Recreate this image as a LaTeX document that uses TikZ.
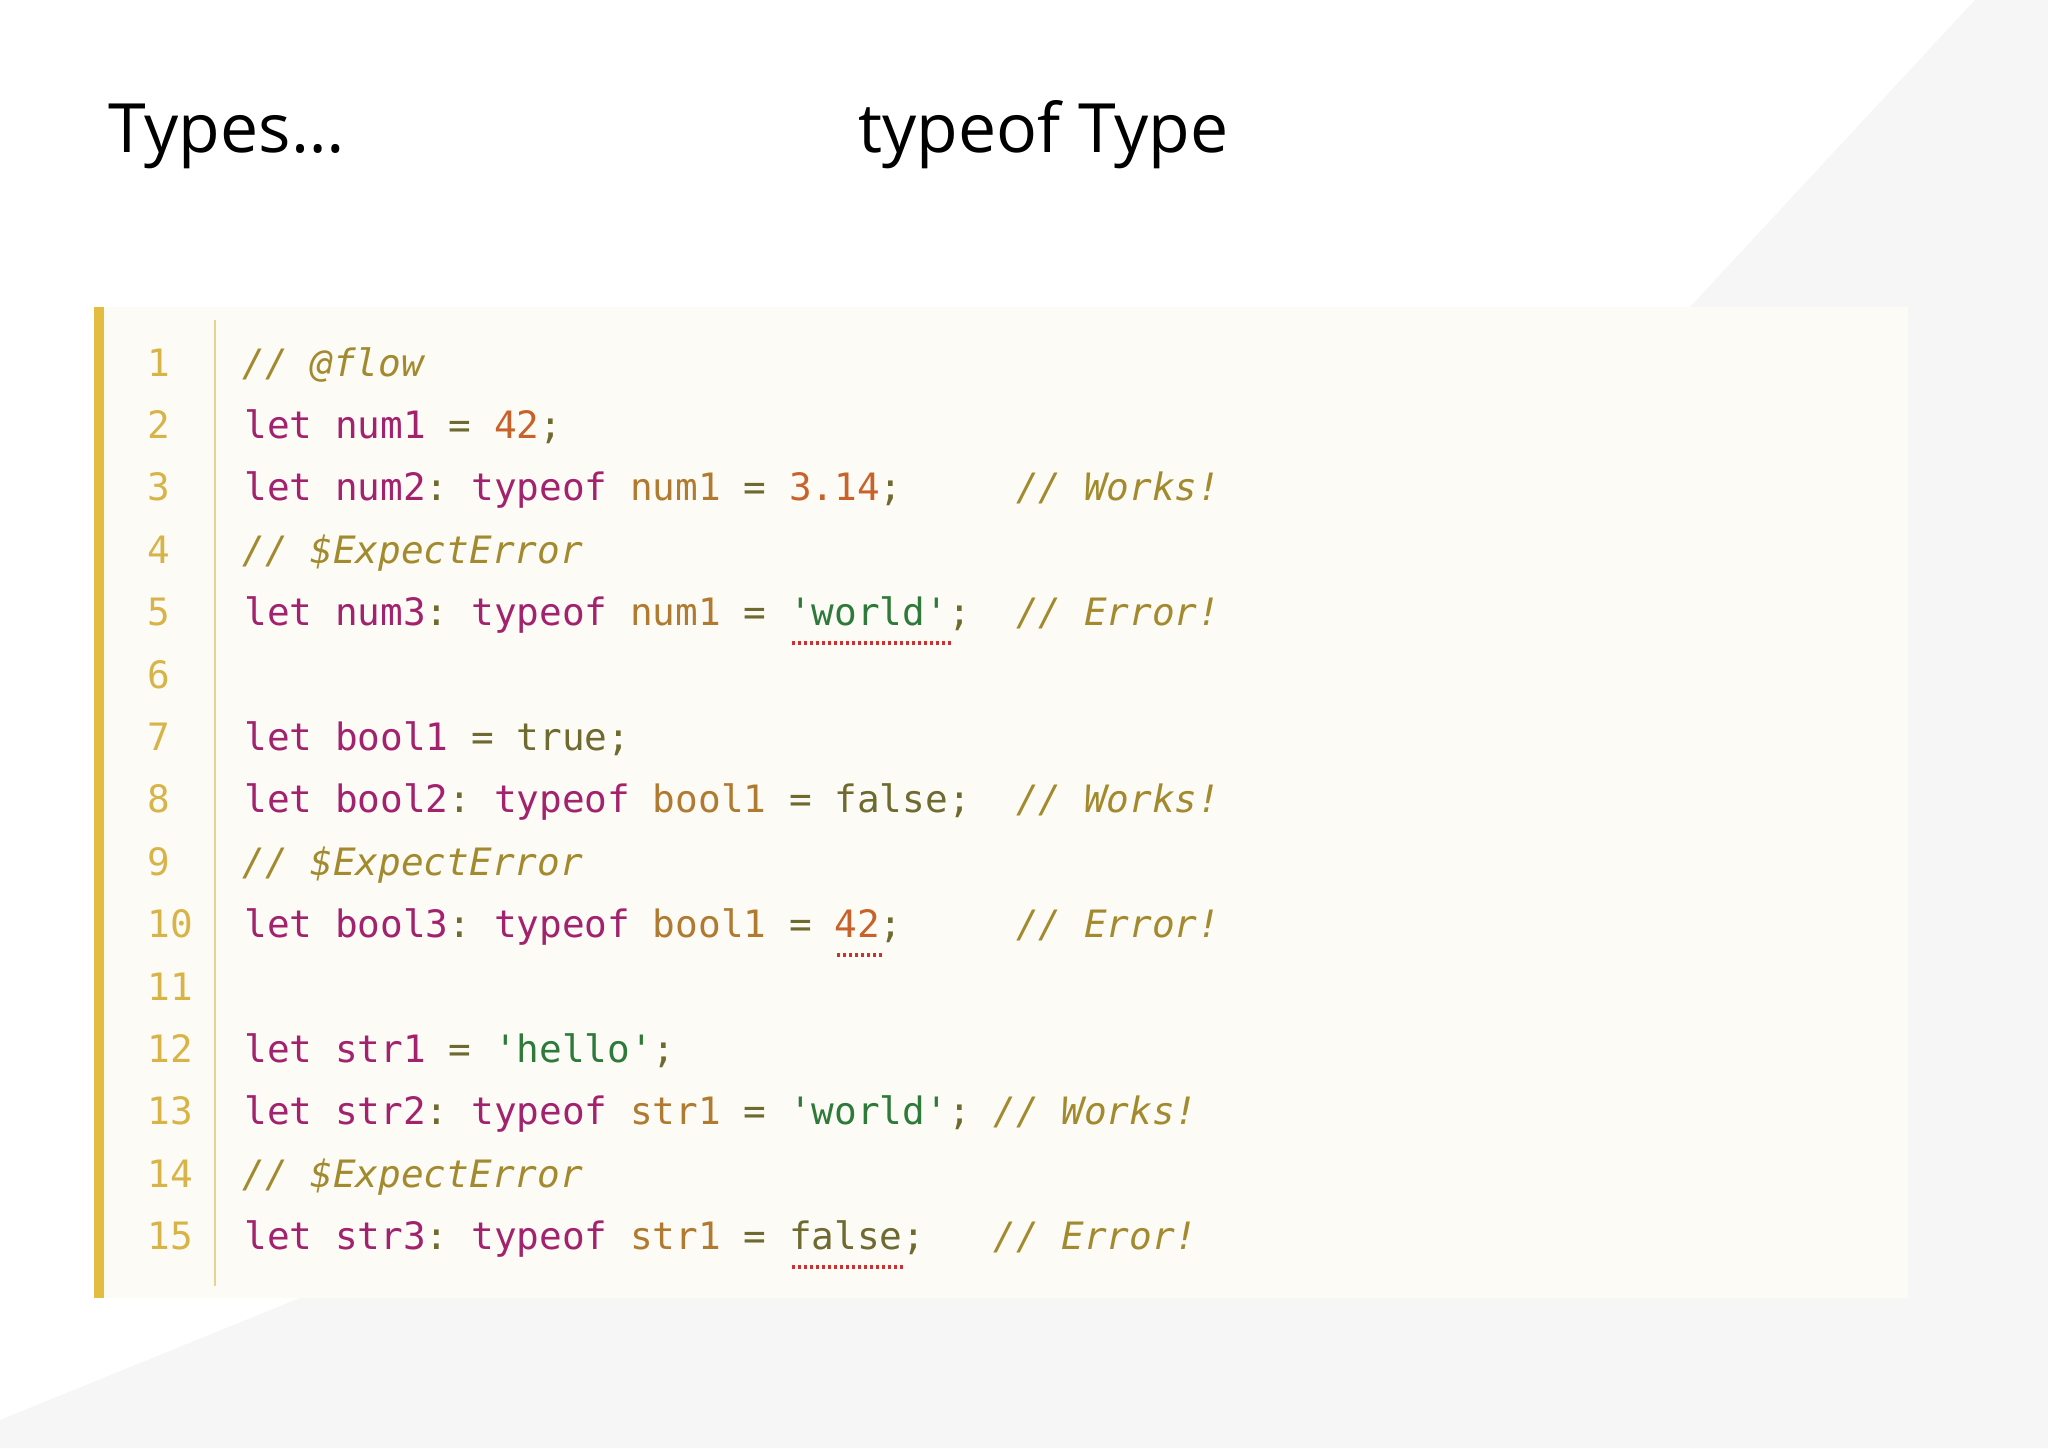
\documentclass[tikz,border=0pt]{standalone}
\usepackage{fontspec}
\setmainfont{Open Sans}
\newfontfamily\codefont{DejaVu Sans Mono}
\definecolor{kw}{HTML}{A3226E}
\definecolor{idt}{HTML}{B07A30}
\definecolor{numc}{HTML}{C8622A}
\definecolor{strc}{HTML}{2E7A3A}
\definecolor{cmt}{HTML}{A38A2E}
\definecolor{pun}{HTML}{6E6A30}
\definecolor{lno}{HTML}{D8B448}
\definecolor{bar}{HTML}{E2BD40}
\definecolor{boxbg}{HTML}{FCFBF6}
\definecolor{bggray}{HTML}{F6F6F6}
\definecolor{errc}{HTML}{D03030}
\newcommand{\K}[1]{\textcolor{kw}{#1}}
\newcommand{\I}[1]{\textcolor{idt}{#1}}
\newcommand{\N}[1]{\textcolor{numc}{#1}}
\newcommand{\St}[1]{\textcolor{strc}{#1}}
\newcommand{\C}[1]{\textcolor{cmt}{\itshape #1}}
\newcommand{\Pn}[1]{\textcolor{pun}{#1}}
\begin{document}
\begin{tikzpicture}[x=0.5pt,y=-0.5pt,
  code/.style={anchor=base west,inner sep=0pt,font=\codefont\fontsize{18.85}{22}\selectfont},
  lnum/.style={anchor=base west,inner sep=0pt,text=lno,font=\codefont\fontsize{18.85}{22}\selectfont},
  title/.style={anchor=base west,inner sep=0pt,font=\fontsize{34}{40}\selectfont},
  err/.style={errc,line width=2pt,dash pattern=on 1.5pt off 1.5pt}]
\useasboundingbox (0,0) rectangle (2048,1448);
\fill[white] (0,0) rectangle (2048,1448);
% background shapes
\fill[bggray] (1975,0) -- (2048,0) -- (2048,1448) -- (1690,1448) -- (1690,307) -- cycle;
\fill[bggray] (0,1420) -- (300,1298) -- (1800,1298) -- (2048,1440) -- (2048,1448) -- (0,1448) -- cycle;
% code box
\fill[boxbg] (94,307) rectangle (1908,1298);
\fill[bar] (94,307) rectangle (104,1298);
\draw[lno!60,line width=1.2pt] (215,320) -- (215,1286);
% titles
\node[title] (t1) at (108,152) {Types…};
\node[title] (t2) at (858,152) {typeof Type};
% code
\foreach \n in {1,...,15}{
  \node[lnum] (ln\n) at (147,{376+(\n-1)*62.4}) {\n};
}
\node[code] (c1) at (242,376) {\C{// @flow}};
\node[code] (c2) at (244,438.4) {\K{let}~\K{num1}~\Pn{=}~\N{42}\Pn{;}};
\node[code] (c3) at (244,500.8) {\K{let}~\K{num2}\Pn{:}~\K{typeof}~\I{num1}~\Pn{=}~\N{3.14}\Pn{;}~~~~~\C{// Works!}};
\node[code] (c4) at (242,563.2) {\C{// \$ExpectError}};
\node[code] (c5) at (244,625.6) {\K{let}~\K{num3}\Pn{:}~\K{typeof}~\I{num1}~\Pn{=}~\St{'world'}\Pn{;}~~\C{// Error!}};
\node[code] (c7) at (244,750.4) {\K{let}~\K{bool1}~\Pn{=}~\Pn{true;}};
\node[code] (c8) at (244,812.8) {\K{let}~\K{bool2}\Pn{:}~\K{typeof}~\I{bool1}~\Pn{=}~\Pn{false;}~~\C{// Works!}};
\node[code] (c9) at (242,875.2) {\C{// \$ExpectError}};
\node[code] (c10) at (244,937.6) {\K{let}~\K{bool3}\Pn{:}~\K{typeof}~\I{bool1}~\Pn{=}~\N{42}\Pn{;}~~~~~\C{// Error!}};
\node[code] (c12) at (244,1062.4) {\K{let}~\K{str1}~\Pn{=}~\St{'hello'}\Pn{;}};
\node[code] (c13) at (244,1124.8) {\K{let}~\K{str2}\Pn{:}~\K{typeof}~\I{str1}~\Pn{=}~\St{'world'}\Pn{;}~\C{// Works!}};
\node[code] (c14) at (242,1187.2) {\C{// \$ExpectError}};
\node[code] (c15) at (244,1249.6) {\K{let}~\K{str3}\Pn{:}~\K{typeof}~\I{str1}~\Pn{=}~\Pn{false;}~~~\C{// Error!}};
% error underlines
\draw[err] (792,643) -- (952,643);
\draw[err] (837,955) -- (882,955);
\draw[err] (792,1267) -- (905,1267);
\end{tikzpicture}
\end{document}
